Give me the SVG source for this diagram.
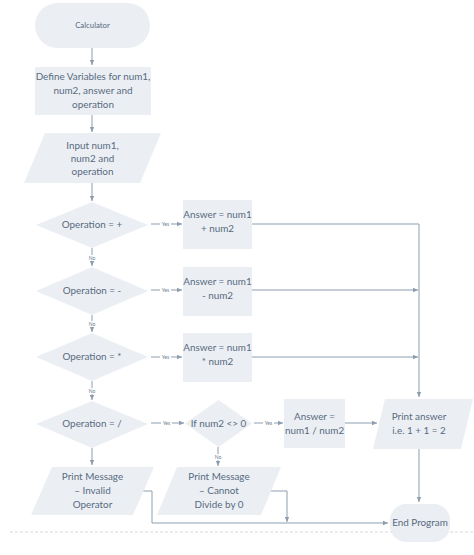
<svg xmlns="http://www.w3.org/2000/svg" width="474" height="555" viewBox="0 0 474 555">
<style>
.s{fill:#ebeff4;stroke:none}
.t{font-family:Lato,"Open Sans",sans-serif;font-size:9.9px;fill:#586a7e;text-anchor:middle}
.c{fill:none;stroke:#8d9db0;stroke-width:1}
.l{font-family:Lato,"Open Sans",sans-serif;font-size:5px;fill:#6d7d90;text-anchor:middle}
.bg{fill:#ffffff}
</style>
<defs>
<marker id="a" markerWidth="6" markerHeight="6" refX="5" refY="3" orient="auto" markerUnits="userSpaceOnUse">
<path d="M0,0.8 L5,3 L0,5.2 Z" fill="#8d9db0"/>
</marker>
</defs>
<rect width="474" height="555" fill="#ffffff"/>
<line x1="10" y1="532" x2="474" y2="532" stroke="#d4d9df" stroke-width="1" stroke-dasharray="3,2"/>

<g id="connectors">
<line class="c" x1="92" y1="48" x2="92" y2="65" marker-end="url(#a)"/>
<line class="c" x1="92" y1="115" x2="92" y2="132" marker-end="url(#a)"/>
<line class="c" x1="92" y1="183" x2="92" y2="201" marker-end="url(#a)"/>
<line class="c" x1="92" y1="248" x2="92" y2="266" marker-end="url(#a)"/>
<line class="c" x1="92" y1="315" x2="92" y2="332" marker-end="url(#a)"/>
<line class="c" x1="92" y1="381" x2="92" y2="400" marker-end="url(#a)"/>
<line class="c" x1="92" y1="448" x2="92" y2="465" marker-end="url(#a)"/>
<line class="c" x1="151" y1="224" x2="182" y2="224" marker-end="url(#a)"/>
<line class="c" x1="151" y1="290" x2="182" y2="290" marker-end="url(#a)"/>
<line class="c" x1="151" y1="357" x2="182" y2="357" marker-end="url(#a)"/>
<line class="c" x1="151" y1="423" x2="184" y2="423" marker-end="url(#a)"/>
<line class="c" x1="254" y1="423" x2="283" y2="423" marker-end="url(#a)"/>
<line class="c" x1="218" y1="447" x2="218" y2="466" marker-end="url(#a)"/>
<line class="c" x1="345" y1="423" x2="377" y2="423" marker-end="url(#a)"/>
<polyline class="c" points="252,224 419,224 419,397" marker-end="url(#a)"/>
<line class="c" x1="252" y1="290" x2="418" y2="290" marker-end="url(#a)"/>
<line class="c" x1="252" y1="357" x2="418" y2="357" marker-end="url(#a)"/>
<line class="c" x1="419" y1="449" x2="419" y2="502" marker-end="url(#a)"/>
<polyline class="c" points="143,491 152,491 152,523 388,523" marker-end="url(#a)"/>
<polyline class="c" points="270,491 287,491 287,522" marker-end="url(#a)"/>
<rect class="bg" x="160" y="221" width="11" height="6"/>
<text class="l" x="165.5" y="226">Yes</text>
<rect class="bg" x="160" y="287" width="11" height="6"/>
<text class="l" x="165.5" y="292">Yes</text>
<rect class="bg" x="160" y="354" width="11" height="6"/>
<text class="l" x="165.5" y="359">Yes</text>
<rect class="bg" x="161" y="420" width="11" height="6"/>
<text class="l" x="166.5" y="425">Yes</text>
<rect class="bg" x="263" y="420" width="11" height="6"/>
<text class="l" x="268.5" y="425">Yes</text>
<rect class="bg" x="87" y="255" width="10" height="6"/>
<text class="l" x="92" y="260">No</text>
<rect class="bg" x="87" y="321" width="10" height="6"/>
<text class="l" x="92" y="326">No</text>
<rect class="bg" x="87" y="388" width="10" height="6"/>
<text class="l" x="92" y="393">No</text>
<rect class="bg" x="213" y="454" width="10" height="6"/>
<text class="l" x="218" y="459">No</text>
</g>

<g id="start">
<rect class="s" x="35" y="3" width="115" height="45" rx="22.5"/>
<text class="t" x="92.5" y="28" style="font-size:7.8px">Calculator</text>
</g>
<g id="define">
<rect class="s" x="35" y="67" width="116" height="48"/>
<text class="t" x="93" y="80">Define Variables for num1,</text>
<text class="t" x="93" y="94">num2, answer and</text>
<text class="t" x="93" y="108">operation</text>
</g>
<g id="input">
<polygon class="s" points="45,133 161,133 140,183 24,183"/>
<text class="t" x="92.5" y="149">Input num1,</text>
<text class="t" x="92.5" y="162">num2 and</text>
<text class="t" x="92.5" y="175">operation</text>
</g>
<g id="op-plus">
<polygon class="s" points="92,202 148,225 92,248 36,225"/>
<text class="t" x="92" y="228">Operation = +</text>
</g>
<g id="op-minus">
<polygon class="s" points="92,267 148,291 92,315 36,291"/>
<text class="t" x="92" y="294">Operation = -</text>
</g>
<g id="op-mul">
<polygon class="s" points="92,333 148,357 92,381 36,357"/>
<text class="t" x="92" y="360">Operation = *</text>
</g>
<g id="op-div">
<polygon class="s" points="92,401 148,424 92,448 36,424"/>
<text class="t" x="92" y="427">Operation = /</text>
</g>
<g id="ans-plus">
<rect class="s" x="183" y="200" width="69" height="49"/>
<text class="t" x="217.5" y="218">Answer = num1</text>
<text class="t" x="217.5" y="232">+ num2</text>
</g>
<g id="ans-minus">
<rect class="s" x="183" y="267" width="69" height="49"/>
<text class="t" x="217.5" y="285">Answer = num1</text>
<text class="t" x="217.5" y="299">- num2</text>
</g>
<g id="ans-mul">
<rect class="s" x="183" y="333" width="69" height="49"/>
<text class="t" x="217.5" y="351">Answer = num1</text>
<text class="t" x="217.5" y="365">* num2</text>
</g>
<g id="check-zero">
<polygon class="s" points="218.5,400 252,423.5 218.5,447 185,423.5"/>
<text class="t" x="218.5" y="426.5">If num2 &lt;&gt; 0</text>
</g>
<g id="ans-div">
<rect class="s" x="284" y="399" width="61" height="49"/>
<text class="t" x="314.5" y="420">Answer =</text>
<text class="t" x="314.5" y="434">num1 / num2</text>
</g>
<g id="print-answer">
<polygon class="s" points="385,399 473,399 461,449 373,449"/>
<text class="t" x="419" y="420">Print answer</text>
<text class="t" x="419" y="434">i.e. 1 + 1 = 2</text>
</g>
<g id="print-invalid">
<polygon class="s" points="52,467 154,467 133,515 31,515"/>
<text class="t" x="92.5" y="480">Print Message</text>
<text class="t" x="92.5" y="494">– Invalid</text>
<text class="t" x="92.5" y="508">Operator</text>
</g>
<g id="print-divzero">
<polygon class="s" points="177,467 281,467 261,515 157,515"/>
<text class="t" x="219" y="480">Print Message</text>
<text class="t" x="219" y="494">– Cannot</text>
<text class="t" x="219" y="508">Divide by 0</text>
</g>
<g id="end">
<rect class="s" x="390" y="504" width="60" height="38" rx="16"/>
<text class="t" x="420" y="526">End Program</text>
</g>
</svg>
